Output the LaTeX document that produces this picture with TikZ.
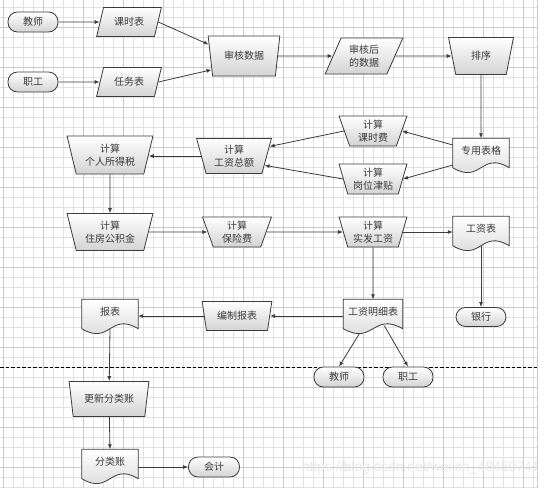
\documentclass[tikz,border=0pt]{standalone}
\usepackage{fontspec}
\newfontfamily\cjk{Noto Sans CJK SC}
\newfontfamily\wmfont{Liberation Sans}
\usetikzlibrary{shapes.geometric,arrows.meta,calc}
\definecolor{ln}{HTML}{3C3C3C}
\definecolor{tx}{HTML}{3A3A3A}
\definecolor{gmin}{HTML}{E2E2E2}
\definecolor{gmaj}{HTML}{CACACA}
\pgfdeclarelayer{bg}
\pgfdeclarelayer{docl}
\pgfsetlayers{bg,docl,main}
\newcommand\docdraw[1]{%
  \path[draw=ln, line width=0.8pt, top color=white, bottom color=black!17]
  (#1.north west) -- (#1.north east) -- (#1.south east)
  .. controls ($(#1.south east)!0.5!(#1.south west)+(0,-17)$) and ($(#1.south east)!0.5!(#1.south west)+(0,17)$) .. (#1.south west) -- cycle;}
\begin{document}
\begin{tikzpicture}[x=1pt,y=-1pt,
  base/.style={draw=ln, line width=0.8pt, top color=white, bottom color=black!17,
    font=\cjk\fontsize{10}{13}\selectfont, text=tx, align=center, inner sep=0pt},
  term/.style={base, rounded corners=9.5pt, minimum width=50pt, minimum height=20pt},
  para/.style={base, trapezium, trapezium left angle=66, trapezium right angle=114,
    trapezium stretches=true, minimum width=65pt, minimum height=29pt},
  manual/.style={base, trapezium, trapezium left angle=107, trapezium right angle=107,
    trapezium stretches=true},
  docnode/.style={font=\cjk\fontsize{10}{13}\selectfont, text=tx, align=center,
    inner sep=0pt, minimum width=56pt, minimum height=29pt, text depth=5pt},
  arr/.style={draw=ln, line width=0.8pt, -{Latex[length=5pt,width=4pt]}}
]
\useasboundingbox (0,0) rectangle (548,488);
\begin{pgfonlayer}{bg}
  \fill[white] (0,0) rectangle (548,488);
  \foreach \x in {3,13,...,533} \draw[gmin, line width=0.6pt] (\x,0) -- (\x,488);
  \foreach \y in {7,17,...,487} \draw[gmin, line width=0.6pt] (0,\y) -- (537,\y);
  \foreach \x in {3,43,...,523} \draw[gmaj, line width=0.6pt] (\x,0) -- (\x,488);
  \foreach \y in {27,67,...,467} \draw[gmaj, line width=0.6pt] (0,\y) -- (537,\y);
  \draw[gmaj, line width=0.8pt] (537,0) -- (537,488);
  \draw[black, line width=0.8pt, dash pattern=on 3.5pt off 2pt] (0,367) -- (537,367);
\end{pgfonlayer}

% nodes
\node[term] (t1) at (33,22) {教师};
\node[term] (t2) at (33,82) {职工};
\node[para] (p1) at (129,22) {课时表};
\node[para] (p2) at (129,82) {任务表};
\node[manual, minimum width=72pt, minimum height=40pt] (sh) at (244,56) {审核数据};
\node[para, minimum width=78pt, minimum height=36pt, trapezium left angle=65, trapezium right angle=115] (hs) at (364,56) {审核后\\的数据};
\node[manual, minimum width=65pt, minimum height=37pt] (px) at (481,56) {排序};
\node[docnode] (zy) at (481,153) {专用表格};
\node[manual, minimum width=68pt, minimum height=30pt] (ks) at (373,131) {计算\\课时费};
\node[manual, minimum width=68pt, minimum height=30pt] (gj) at (373,179) {计算\\岗位津贴};
\node[manual, minimum width=75pt, minimum height=35pt] (ze) at (234,156) {计算\\工资总额};
\node[manual, minimum width=86pt, minimum height=38pt] (gs) at (110,155) {计算\\个人所得税};
\node[manual, minimum width=86pt, minimum height=37pt] (zf) at (110,232) {计算\\住房公积金};
\node[manual, minimum width=69pt, minimum height=30pt] (bx) at (237,232) {计算\\保险费};
\node[manual, minimum width=68pt, minimum height=30pt] (sf) at (373,232) {计算\\实发工资};
\node[docnode] (gzb) at (481,231) {工资表};
\node[term, minimum height=19pt] (yh) at (481,317) {银行};
\node[docnode, minimum width=59pt] (mx) at (373,314) {工资明细表};
\node[term] (js2) at (339,377) {教师};
\node[term] (zg2) at (408,377) {职工};
\node[manual, minimum width=70pt, minimum height=29pt] (bb) at (237,316) {编制报表};
\node[docnode] (bf) at (110,314) {报表};
\node[manual, minimum width=80pt, minimum height=35pt] (gx) at (109,399) {更新分类账};
\node[docnode] (fl) at (110,464) {分类账};
\node[term, minimum width=51pt] (kj) at (214,467) {会计};

\begin{pgfonlayer}{docl}
  \docdraw{zy}
  \docdraw{gzb}
  \docdraw{mx}
  \docdraw{bf}
  \docdraw{fl}
\end{pgfonlayer}

% connectors
\draw[arr] (t1) -- (p1);
\draw[arr] (t2) -- (p2);
\draw[arr] (p1.east) -- (sh.162);
\draw[arr] (p2.east) -- (sh.203);
\draw[arr] (sh) -- (hs);
\draw[arr] (hs) -- (px);
\draw[arr] (px) -- (zy.north);
\draw[arr] ($(zy.west)+(0,-8)$) -- (ks.east);
\draw[arr] ($(zy.west)+(0,12)$) -- (gj.east);
\draw[arr] (ks.west) -- (ze.15);
\draw[arr] (gj.west) -- (ze.-17);
\draw[arr] (ze.west) -- (ze.west -| gs.east);
\draw[arr] (gs) -- (zf);
\draw[arr] (zf) -- (bx);
\draw[arr] (bx) -- (sf);
\draw[arr] (sf.east) -- (sf.east -| gzb.west);
\draw[arr] (sf) -- (mx.north);
\draw[arr] (gzb.south) -- (yh);
\draw[arr] (mx.west |- bb.east) -- (bb.east);
\draw[arr] (bb.west) -- (bb.west -| bf.east);
\draw[arr] ($(mx.south west)+(16,5)$) -- (js2.north);
\draw[arr] ($(mx.south west)+(41,-3)$) -- (zg2.north);
\draw[arr] (bf.south) -- (gx);
\draw[arr] (gx) -- (fl.north);
\draw[arr] (fl.east |- kj.west) -- (kj.west);

\node[font=\wmfont\fontsize{14}{14}\selectfont, text=black!9, anchor=east, inner sep=0pt] (wm) at (540,468) {https://blog.csdn.net/weixin\_48450741};
\end{tikzpicture}
\end{document}
